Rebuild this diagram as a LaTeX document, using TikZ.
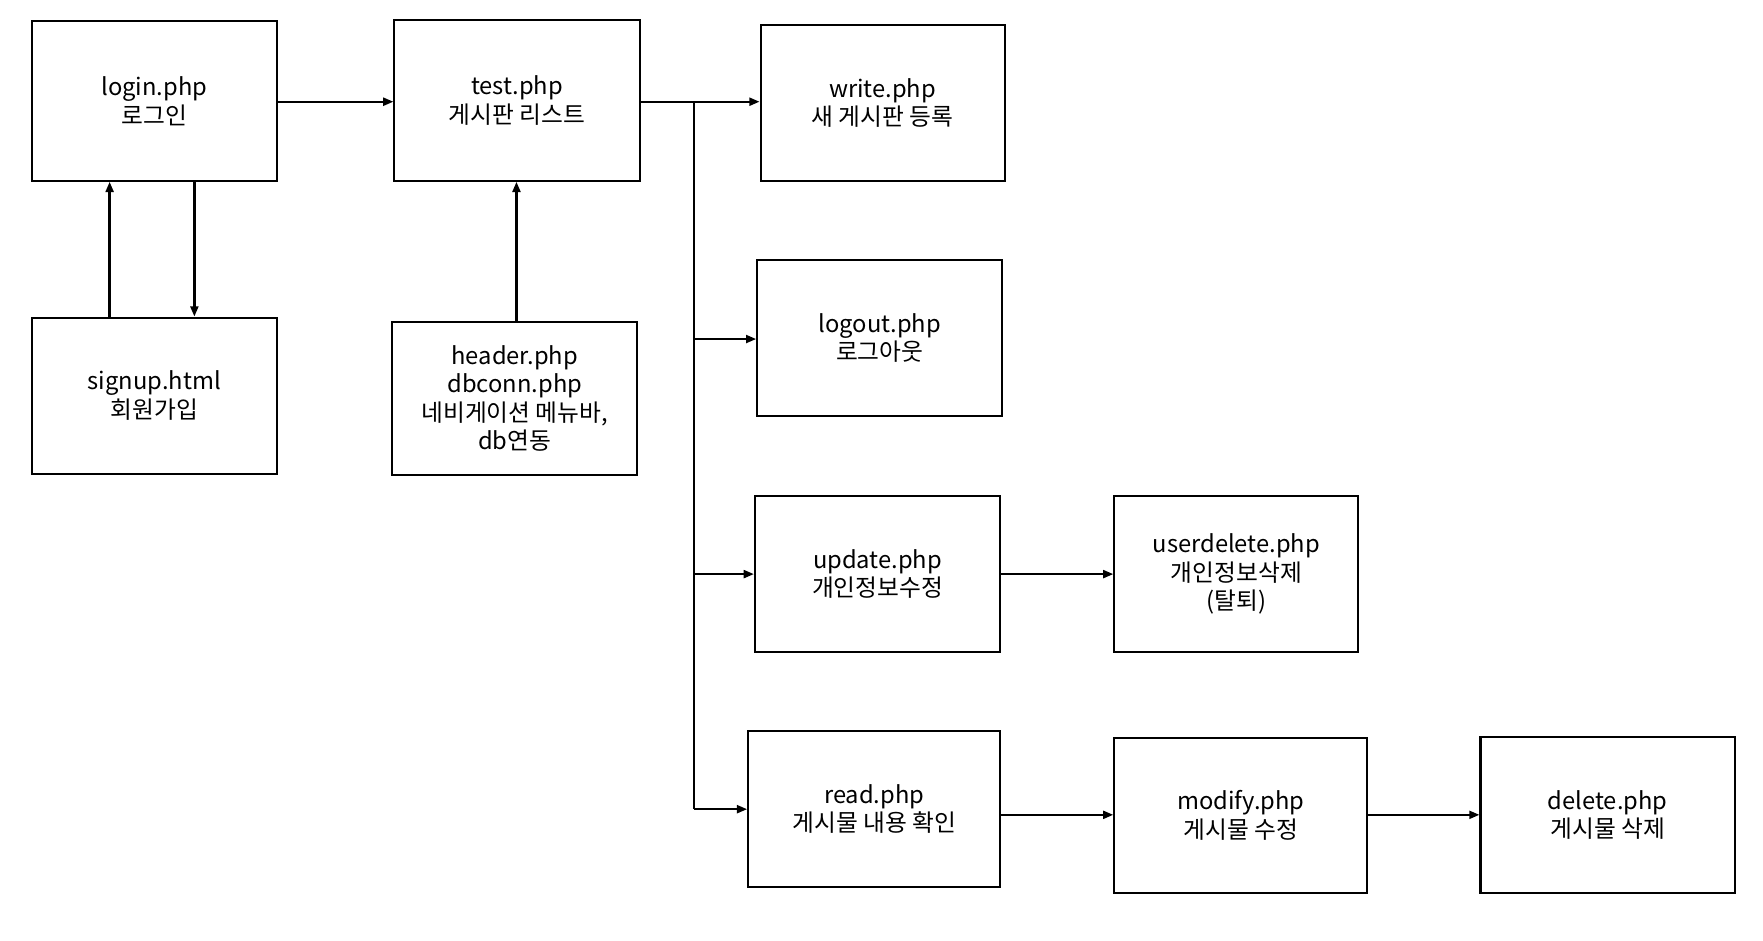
\documentclass[tikz,border=0pt]{standalone}
\usepackage{fontspec}
\setmainfont{Noto Sans CJK KR}
\usetikzlibrary{arrows.meta}
\begin{document}
\begin{tikzpicture}[x=1pt,y=-1pt,
  bx/.style={draw,line width=1.8pt,inner sep=0pt,align=center,font=\fontsize{21}{25}\selectfont},
  ar/.style={line width=2pt,-{Triangle[length=9pt,width=7pt]}},
  ln/.style={line width=2pt}]
\useasboundingbox (0,0) rectangle (1560,832);
\newcommand\bx[6]{\node[bx,minimum width=#4-#2,minimum height=#5-#3] (#1) at ({(#2+#4)/2},{(#3+#5)/2}) {#6};}
\bx{login}{28}{19}{245}{160}{login.php\\로그인}
\bx{test}{349}{18}{566}{160}{test.php\\게시판 리스트}
\bx{write}{673}{22}{889}{160}{write.php\\새 게시판 등록}
\bx{logout}{670}{230}{887}{368}{logout.php\\로그아웃}
\bx{update}{668}{439}{885}{577}{update.php\\개인정보수정}
\bx{udel}{986}{439}{1202}{577}{userdelete.php\\개인정보삭제\\(탈퇴)}
\bx{read}{662}{647}{885}{785}{read.php\\게시물 내용 확인}
\bx{modify}{986}{653}{1210}{790}{modify.php\\게시물 수정}
\bx{delete}{1310}{652}{1535}{790}{delete.php\\게시물 삭제}
\bx{signup}{28}{281}{245}{419}{signup.html\\회원가입}
\bx{header}{347}{285}{564}{420}{header.php\\dbconn.php\\네비게이션 메뉴바,\\db연동}
\coordinate (t0) at (614,90);
\coordinate (t1) at (614,716);
\draw[ar] (login.east|-0,90) -- (test.west|-0,90);
\draw[ln] (test.east|-0,90) -- (t0);
\draw[ar] (t0) -- (write.west|-0,90);
\draw[ln] (t0) -- (t1);
\draw[ar] (614,300) -- (logout.west|-0,300);
\draw[ar] (614,508) -- (update.west|-0,508);
\draw[ar] (t1) -- (read.west|-0,716);
\draw[ar] (signup.north-|97,0) -- (login.south-|97,0);
\draw[ar] (login.south-|172,0) -- (signup.north-|172,0);
\draw[ar] (header.north-|457,0) -- (test.south-|457,0);
\draw[ar] (update.east|-0,508) -- (udel.west|-0,508);
\draw[ar] (read.east|-0,721) -- (modify.west|-0,721);
\draw[ar] (modify.east|-0,721) -- (delete.west|-0,721);
\end{tikzpicture}
\end{document}
